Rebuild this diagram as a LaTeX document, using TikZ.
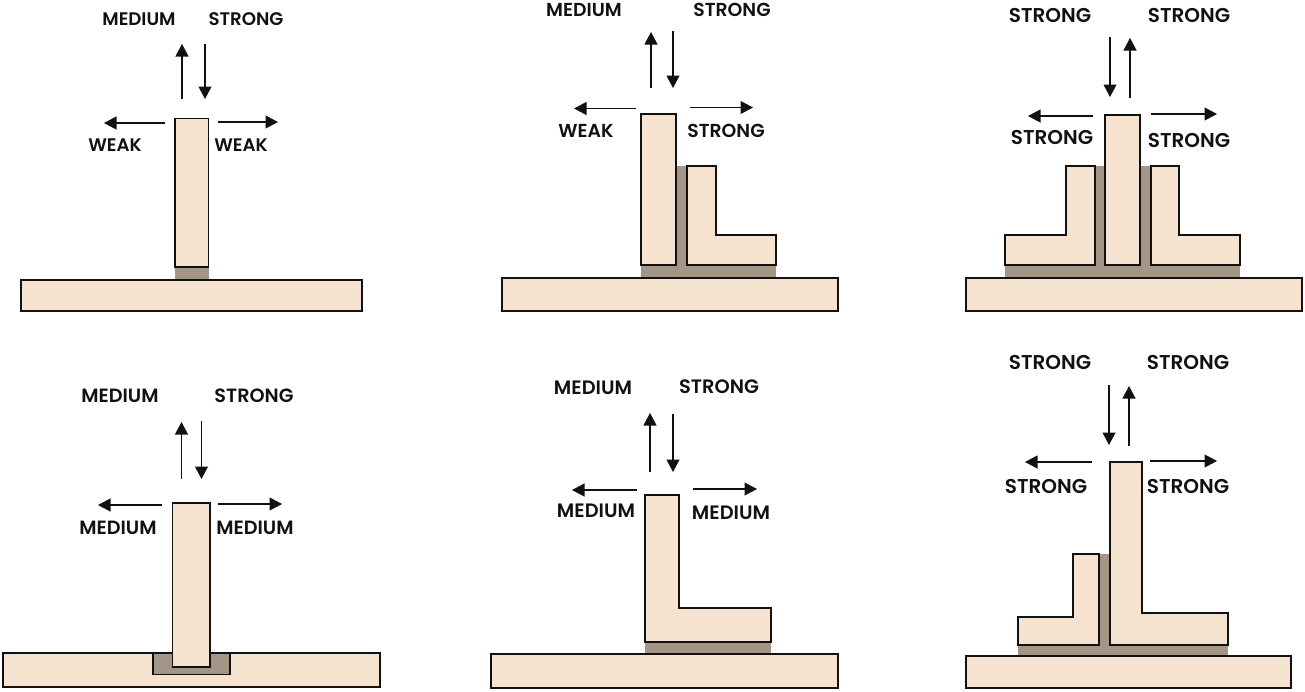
\documentclass[tikz,border=0pt]{standalone}
\usepackage{fontspec}
\setmainfont{Poppins}[BoldFont={Poppins SemiBold}]
\usetikzlibrary{arrows.meta}
\definecolor{plate}{HTML}{F5E3CF}
\definecolor{weldc}{HTML}{A49687}
\definecolor{ink}{HTML}{111111}
\tikzset{
  part/.style={draw=ink,fill=plate,line width=1.4pt,line join=miter},
  weld/.style={fill=weldc,draw=none},
  force/.style={draw=ink,line width=1.1pt,-{Triangle[length=12.5pt,width=13pt]}},
  lab/.style={font=\fontsize{#1 pt}{20pt}\selectfont\bfseries,text=ink,inner sep=0pt,anchor=center}
}
\begin{document}
\begin{tikzpicture}[x=1pt,y=-1pt]
\useasboundingbox (0,0) rectangle (1305,691);
% Panel A
\fill[weld] (175,265) rectangle (208.5,281);
\draw[part] (21,280) rectangle (362,311);
\draw[part] (175,118.5) rectangle (208.5,267);
\draw[force] (182,99) -- (182,44);
\draw[force] (205,44) -- (205,99);
\draw[force] (165,123) -- (104,123);
\draw[force] (218,122) -- (278,122);
\node[lab=18.2] (a1) at (139,19) {MEDIUM};
\node[lab=18.2] (a2) at (246,19) {STRONG};
\node[lab=18.2] (a3) at (115,145) {WEAK};
\node[lab=18.2] (a4) at (241,145) {WEAK};
% Panel B
\draw[part] (3,653) rectangle (380,687);
\draw[part,fill=weldc] (153,653) rectangle (230,674.5);
\draw[part] (172.5,503) rectangle (210,667);
\draw[force] (181.5,479) -- (181.5,422);
\draw[force] (201.5,421) -- (201.5,479);
\draw[force] (162,505) -- (98,505);
\draw[force] (218,504) -- (282,504);
\node[lab=19.2] (b1) at (120,396) {MEDIUM};
\node[lab=19.2] (b2) at (254,396) {STRONG};
\node[lab=19.2] (b3) at (118,528) {MEDIUM};
\node[lab=19.2] (b4) at (255,528) {MEDIUM};
% Panel C
\fill[weld] (641,264) rectangle (776,279);
\fill[weld] (676,166) rectangle (687,279);
\draw[part] (502,278) rectangle (838,311);
\draw[part] (641,114) rectangle (676,265);
\draw[part] (687,166) -- (716,166) -- (716,235) -- (776,235) -- (776,265) -- (687,265) -- cycle;
\draw[force] (651,88) -- (651,32);
\draw[force] (673,31) -- (673,88);
\draw[force] (636,108.5) -- (574,108.5);
\draw[force] (690,107.5) -- (753,107.5);
\node[lab=18.8] (c1) at (584,10) {MEDIUM};
\node[lab=18.8] (c2) at (732,10) {STRONG};
\node[lab=18.8] (c3) at (586,131) {WEAK};
\node[lab=18.8] (c4) at (726,131) {STRONG};
% Panel D
\fill[weld] (1005,264) rectangle (1240,279);
\fill[weld] (1095,166) rectangle (1151,279);
\draw[part] (966,278) rectangle (1302,311);
\draw[part] (1105,115) rectangle (1140,265);
\draw[part] (1095,166) -- (1066,166) -- (1066,235) -- (1005,235) -- (1005,265) -- (1095,265) -- cycle;
\draw[part] (1151,166) -- (1179,166) -- (1179,235) -- (1240,235) -- (1240,265) -- (1151,265) -- cycle;
\draw[force] (1110,37) -- (1110,97);
\draw[force] (1130,98) -- (1130,38);
\draw[force] (1093,116) -- (1028,116);
\draw[force] (1151,114) -- (1217,114);
\node[lab=20] (d1) at (1050,15) {STRONG};
\node[lab=20] (d2) at (1189,15) {STRONG};
\node[lab=20] (d3) at (1052,137) {STRONG};
\node[lab=20] (d4) at (1189,140) {STRONG};
% Panel E
\fill[weld] (645,641) rectangle (771,655);
\draw[part] (491,654) rectangle (838,688);
\draw[part] (645,495) -- (679,495) -- (679,608) -- (771,608) -- (771,642) -- (645,642) -- cycle;
\draw[force] (650,472) -- (650,413);
\draw[force] (673,414) -- (673,472);
\draw[force] (637,490) -- (572,490);
\draw[force] (693,489) -- (757,489);
\node[lab=19.4] (e1) at (593,388) {MEDIUM};
\node[lab=19.4] (e2) at (719,387) {STRONG};
\node[lab=19.4] (e3) at (596,511) {MEDIUM};
\node[lab=19.4] (e4) at (731,513) {MEDIUM};
% Panel F
\fill[weld] (1018,644) rectangle (1228,657);
\fill[weld] (1099,554) rectangle (1110,657);
\draw[part] (966,656) rectangle (1291,688);
\draw[part] (1110,462) -- (1142,462) -- (1142,613) -- (1228,613) -- (1228,645) -- (1110,645) -- cycle;
\draw[part] (1099,554) -- (1073,554) -- (1073,617) -- (1018,617) -- (1018,645) -- (1099,645) -- cycle;
\draw[force] (1109,385) -- (1109,445);
\draw[force] (1129,446) -- (1129,386);
\draw[force] (1092,462) -- (1025,462);
\draw[force] (1150,461) -- (1217,461);
\node[lab=20] (f1) at (1050,362) {STRONG};
\node[lab=20] (f2) at (1188,362) {STRONG};
\node[lab=20] (f3) at (1046,486) {STRONG};
\node[lab=20] (f4) at (1188,486) {STRONG};
\end{tikzpicture}
\end{document}
